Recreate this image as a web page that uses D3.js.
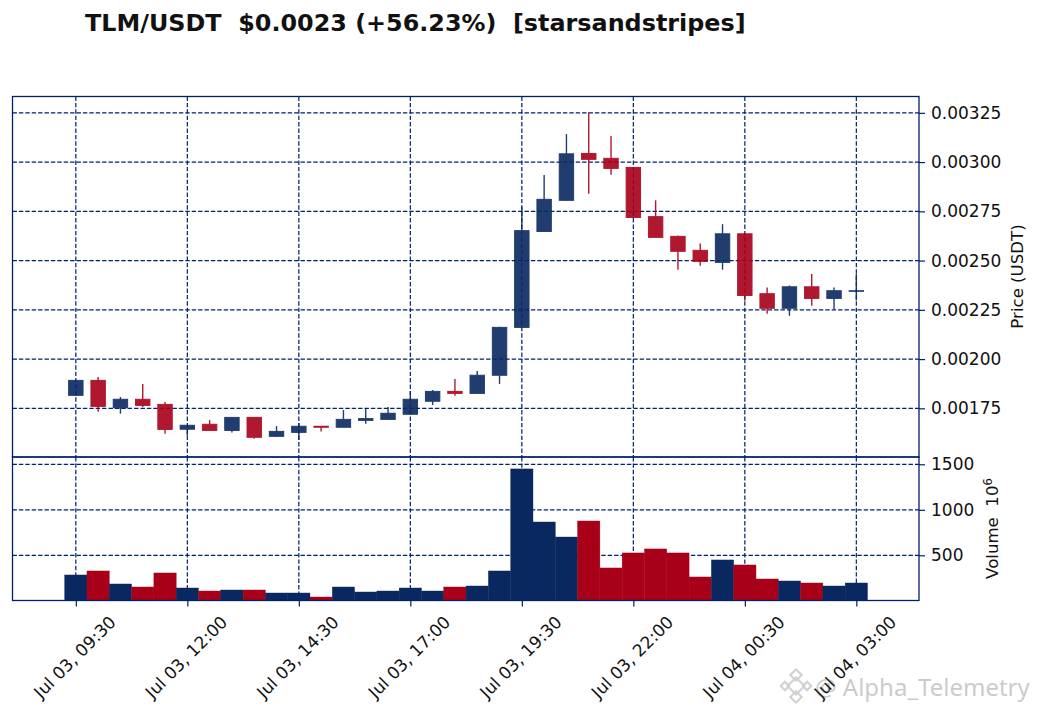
<!DOCTYPE html>
<html>
<head>
<meta charset="utf-8">
<script src="https://cdn.jsdelivr.net/npm/d3@7"></script>
<style>
  html, body { margin: 0; padding: 0; background: #fff; }
  svg { display: block; }
  text { font-family: "DejaVu Sans", sans-serif; fill: #111; }
</style>
</head>
<body>
<div id="chart"></div>
<script>
const opens  = [0.001816,0.001892,0.001753,0.001796,0.001770,0.001644,0.001669,0.001638,0.001704,0.001608,0.001628,0.001659,0.001654,0.001689,0.001694,0.001720,0.001786,0.001836,0.001826,0.001918,0.002161,0.002648,0.002806,0.003044,0.003019,0.002973,0.002723,0.002623,0.002552,0.002491,0.002636,0.002332,0.002258,0.002367,0.002308,0.002344];
const closes = [0.001892,0.001760,0.001796,0.001765,0.001643,0.001664,0.001638,0.001704,0.001603,0.001633,0.001659,0.001654,0.001694,0.001698,0.001725,0.001796,0.001836,0.001826,0.001918,0.002161,0.002652,0.002811,0.003042,0.003014,0.002968,0.002719,0.002618,0.002547,0.002496,0.002636,0.002323,0.002258,0.002367,0.002308,0.002347,0.002347];
const highs  = [0.001892,0.001909,0.001808,0.001874,0.001782,0.001664,0.001691,0.001706,0.001706,0.001660,0.001674,0.001659,0.001742,0.001747,0.001757,0.001838,0.001843,0.001899,0.001939,0.002164,0.002773,0.002934,0.003142,0.003252,0.003132,0.002973,0.002806,0.002628,0.002587,0.002685,0.002636,0.002364,0.002374,0.002432,0.002364,0.002432];
const lows   = [0.001816,0.001733,0.001723,0.001757,0.001621,0.001611,0.001637,0.001627,0.001596,0.001605,0.001589,0.001632,0.001654,0.001672,0.001691,0.001720,0.001767,0.001814,0.001826,0.001874,0.002161,0.002647,0.002804,0.002839,0.002936,0.002719,0.002616,0.002454,0.002474,0.002454,0.002296,0.002230,0.002220,0.002271,0.002252,0.002298];
const volumes = [284,328,185,152,306,141,108,119,119,86,86,42,152,97,108,141,108,152,163,328,1449,866,701,877,361,526,570,526,262,449,394,240,218,196,163,196];
const priceTicks = [0.00175,0.00200,0.00225,0.00250,0.00275,0.00300,0.00325];
const volumeTicks = [500,1000,1500];
const timeTicks = [0,5,10,15,20,25,30,35];
const timeLabels = ['Jul 03, 09:30','Jul 03, 12:00','Jul 03, 14:30','Jul 03, 17:00','Jul 03, 19:30','Jul 03, 22:00','Jul 04, 00:30','Jul 04, 03:00'];

const width = 1037, height = 712;
const left = 12.5, right = 919, priceTop = 96.5, split = 457, volBottom = 600.5;
const NAVY = '#00206b', UP = '#0a2860', DOWN = '#a80019';
const FONT_SIZE = '17px';

const svg = d3.select('#chart').append('svg')
  .attr('width', width)
  .attr('height', height)
  .attr('viewBox', `0 0 ${width} ${height}`);

const x = d3.scaleLinear().domain([-2.84, 37.81]).range([left, right]);
const yPrice = d3.scaleLinear().domain([0.001503, 0.003333]).range([split, priceTop]);
const yVol = d3.scaleLinear().domain([3.6, 1580]).range([volBottom, split]);

const candleW = 14.4;
const isUp = i => closes[i] >= opens[i];

// grid
function drawGrid(y, ticks, top, bottom) {
  svg.append('g').selectAll('line').data(ticks).enter().append('line')
    .attr('x1', left).attr('x2', right)
    .attr('y1', d => y(d)).attr('y2', d => y(d))
    .attr('stroke', NAVY).attr('stroke-width', 1.2).attr('stroke-dasharray', '4.4 2');
  svg.append('g').selectAll('line').data(timeTicks).enter().append('line')
    .attr('x1', d => x(d)).attr('x2', d => x(d))
    .attr('y1', top).attr('y2', bottom)
    .attr('stroke', NAVY).attr('stroke-width', 1.2).attr('stroke-dasharray', '4.4 2');
}
drawGrid(yPrice, priceTicks, priceTop, split);
drawGrid(yVol, volumeTicks, split, volBottom);

// candles
const candles = svg.append('g').selectAll('g').data(opens).enter().append('g').attr('opacity', 0.9);
candles.append('line')
  .attr('x1', (d, i) => x(i)).attr('x2', (d, i) => x(i))
  .attr('y1', (d, i) => yPrice(highs[i])).attr('y2', (d, i) => yPrice(lows[i]))
  .attr('stroke', (d, i) => isUp(i) ? UP : DOWN)
  .attr('stroke-width', 1.4);
candles.append('rect')
  .attr('x', (d, i) => x(i) - candleW / 2)
  .attr('width', candleW)
  .attr('y', (d, i) => yPrice(Math.max(opens[i], closes[i])))
  .attr('height', (d, i) => Math.abs(yPrice(opens[i]) - yPrice(closes[i])))
  .attr('fill', (d, i) => isUp(i) ? UP : DOWN)
  .attr('stroke', (d, i) => isUp(i) ? UP : DOWN)
  .attr('stroke-width', 1);

// volume bars
const barW = x(1) - x(0);
svg.append('g').selectAll('rect').data(volumes).enter().append('rect')
  .attr('x', (d, i) => x(i) - barW / 2)
  .attr('width', barW)
  .attr('y', d => yVol(d))
  .attr('height', d => volBottom - yVol(d))
  .attr('fill', (d, i) => isUp(i) ? UP : DOWN)
  .attr('stroke', (d, i) => isUp(i) ? UP : DOWN)
  .attr('stroke-width', 0.4);

// axes
function styleAxis(g) {
  g.select('.domain').remove();
  g.selectAll('.tick line').attr('stroke', NAVY).attr('stroke-width', 1.2);
  g.selectAll('.tick text').style('font-family', '"DejaVu Sans", sans-serif').attr('fill', '#111');
}

svg.append('g')
  .attr('transform', `translate(${right},0)`)
  .call(d3.axisRight(yPrice).tickValues(priceTicks).tickFormat(d3.format('.5f')).tickSize(6).tickPadding(6))
  .call(styleAxis)
  .selectAll('.tick text').style('font-size', FONT_SIZE);

svg.append('g')
  .attr('transform', `translate(${right},0)`)
  .call(d3.axisRight(yVol).tickValues(volumeTicks).tickFormat(d3.format('d')).tickSize(6).tickPadding(6))
  .call(styleAxis)
  .selectAll('.tick text').style('font-size', FONT_SIZE);

const xAxis = svg.append('g')
  .attr('transform', `translate(0,${volBottom})`)
  .call(d3.axisBottom(x).tickValues(timeTicks).tickFormat((d, i) => timeLabels[i]).tickSize(6))
  .call(styleAxis);
xAxis.selectAll('.tick text')
  .style('font-size', FONT_SIZE)
  .attr('text-anchor', 'middle')
  .attr('x', 0).attr('y', 0).attr('dy', '0.35em')
  .attr('transform', 'translate(-1.5,56.5) rotate(-45)');

// panel frames
[[priceTop, split], [split, volBottom]].forEach(([t, b]) => {
  svg.append('rect')
    .attr('x', left).attr('y', t)
    .attr('width', right - left).attr('height', b - t)
    .attr('fill', 'none').attr('stroke', NAVY).attr('stroke-width', 1.3);
});

// labels
svg.append('text')
  .attr('x', 85).attr('y', 30.5)
  .style('font-size', '23.87px').style('font-weight', 'bold')
  .style('white-space', 'pre')
  .text('TLM/USDT  $0.0023 (+56.23%)  [starsandstripes]');

svg.append('text')
  .attr('transform', 'translate(1022.5,276.5) rotate(-90)')
  .attr('text-anchor', 'middle')
  .style('font-size', '16.6px')
  .text('Price (USDT)');

const volLabel = svg.append('text')
  .attr('transform', 'translate(998,528.5) rotate(-90)')
  .attr('text-anchor', 'middle')
  .style('font-size', '16.6px')
  .style('white-space', 'pre');
volLabel.append('tspan').text('Volume  10');
volLabel.append('tspan').attr('dy', -6).style('font-size', '11.6px').text('6');

// watermark
const wm = svg.append('g').attr('opacity', 0.3);
const diamonds = [[796, 686, 6], [785, 686, 3], [807, 686, 3], [796, 675, 4], [796, 697, 4]];
wm.selectAll('rect').data(diamonds).enter().append('rect')
  .attr('x', d => -d[2]).attr('y', d => -d[2])
  .attr('width', d => d[2] * 2).attr('height', d => d[2] * 2)
  .attr('transform', d => `translate(${d[0]},${d[1]}) rotate(45)`)
  .attr('fill', 'none').attr('stroke', '#666').attr('stroke-width', 2);
wm.append('text')
  .attr('x', 815).attr('y', 696)
  .style('font-family', '"Noto Sans", sans-serif')
  .style('font-size', '24px')
  .style('fill', '#555')
  .text('@ Alpha_Telemetry');
</script>
</body>
</html>
